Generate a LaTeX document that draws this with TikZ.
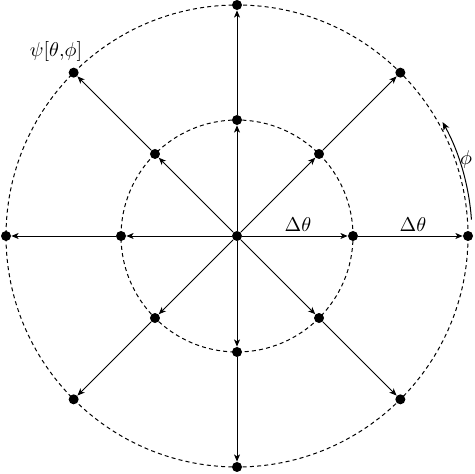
\documentclass[tikz,border=0pt]{standalone}
\usetikzlibrary{arrows.meta,calc}
\begin{document}
\begin{tikzpicture}[x=0.5pt,y=0.5pt,
  dot/.style={circle,fill=black,inner sep=0pt,minimum size=5pt},
  ray/.style={line width=0.4pt,-{Stealth[length=3.6pt,width=3pt,inset=1pt]}},
  ring/.style={line width=0.5pt,dash pattern=on 2pt off 1.6pt},
  lbl/.style={inner sep=0pt,font=\normalsize}]
\useasboundingbox (0,0) rectangle (474,474);
\coordinate (c) at (237,238);
\draw[ring] (c) circle[radius=116];
\draw[ring] (c) circle[radius=231];
\node[dot] (o) at (c) {};
\foreach \a [count=\k from 0] in {0,45,...,315} {
  \node[dot] (i\k) at ($(c)+(\a:116)$) {};
  \node[dot] (u\k) at ($(c)+(\a:231)$) {};
  \draw[ray] (o) -- (i\k);
  \draw[ray] (i\k) -- (u\k);
}
\coordinate (a1) at ($(c)+(4:235)$);
\draw[line width=0.5pt,-{Stealth[length=4pt,width=3.2pt,inset=1pt]}] (a1) arc[start angle=4,end angle=29,radius=235];
\node[lbl] (phi) at (466,314) {$\phi$};
\node[lbl] (d1) at (298,249) {$\Delta\theta$};
\node[lbl] (d2) at (413,249) {$\Delta\theta$};
\node[lbl] (psi) at (56,422) {$\psi[\theta{,}\phi]$};
\end{tikzpicture}
\end{document}
